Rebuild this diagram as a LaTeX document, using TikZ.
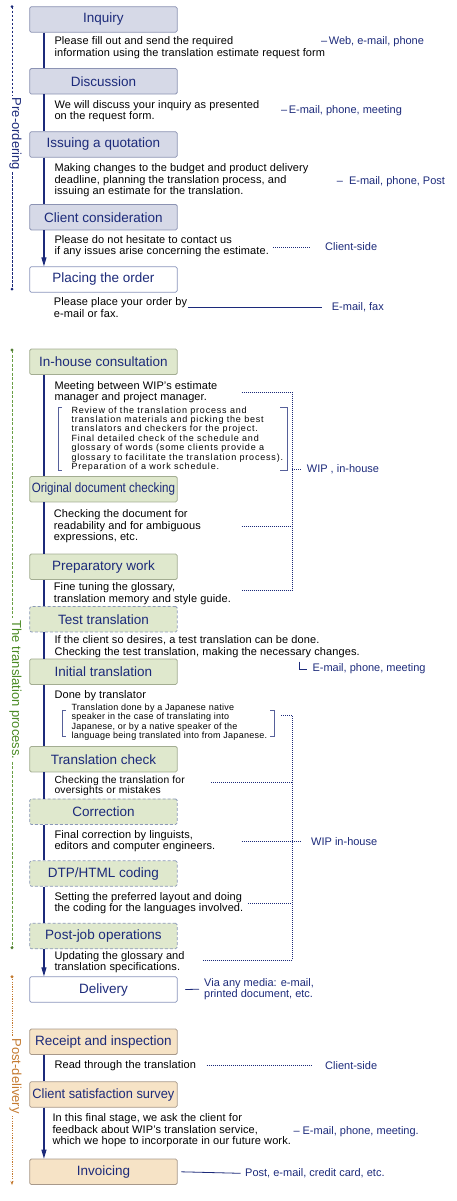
\documentclass[tikz,border=0pt]{standalone}
\usepackage{fontspec}
\setmainfont{Liberation Sans}
\usetikzlibrary{arrows.meta}
\definecolor{navy}{HTML}{1C2A7A}
\definecolor{preFill}{HTML}{D6D9E7}
\definecolor{preDraw}{HTML}{8C93B3}
\definecolor{grnFill}{HTML}{DFE8CD}
\definecolor{grnDraw}{HTML}{A3AD92}
\definecolor{tanFill}{HTML}{F6E3C6}
\definecolor{tanDraw}{HTML}{A8998A}
\definecolor{dashDraw}{HTML}{8A98B8}
\definecolor{wDraw}{HTML}{8A96BC}
\definecolor{grnLab}{HTML}{4A8A24}
\definecolor{grnLine}{HTML}{6A9F45}
\definecolor{brn}{HTML}{C47A30}
\definecolor{brk}{HTML}{56609A}
\begin{document}
\begin{tikzpicture}[x=1pt,y=-1pt,
 box/.style={rounded corners=1.5pt, minimum width=147.5pt, minimum height=25.5pt, inner sep=0pt, text=navy, font=\fontsize{13.5}{15}\selectfont, line width=0.8pt},
 pre/.style={box, draw=preDraw, fill=preFill},
 grn/.style={box, draw=grnDraw, fill=grnFill},
 grnd/.style={grn, draw=dashDraw, dash pattern=on 3pt off 2pt},
 tan/.style={box, draw=tanDraw, fill=tanFill},
 wht/.style={box, draw=wDraw, fill=white},
 desc/.style={anchor=west, align=left, inner sep=0pt, font=\fontsize{11}{11.5}\selectfont\addfontfeatures{LetterSpace=1}},
 small/.style={anchor=west, align=left, inner sep=0pt, font=\fontsize{9}{9.4}\selectfont\addfontfeatures{LetterSpace=9}},
 smallb/.style={anchor=west, align=left, inner sep=0pt, font=\fontsize{9}{9.1}\selectfont\addfontfeatures{LetterSpace=3}},
 lab/.style={anchor=west, align=left, inner sep=0pt, text=navy, font=\fontsize{11}{11.7}\selectfont},
 conn/.style={draw=navy, line width=1.1pt},
 arr/.style={conn, -{Triangle[length=9pt,width=5pt]}},
 dots/.style={draw=navy, line width=0.7pt, dash pattern=on 1pt off 1pt},
 thin/.style={draw=navy, line width=0.8pt},
 brack/.style={draw=brk, line width=0.9pt},
 sec/.style={rotate=-90, font=\fontsize{13}{14}\selectfont, inner sep=2pt},
 preline/.style={draw=navy, line width=0.9pt, dash pattern=on 2.5pt off 1.5pt},
 grnline/.style={draw=grnLine, line width=0.9pt, dash pattern=on 3pt off 1.5pt},
 brnline/.style={draw=brn, line width=1pt, dash pattern=on 1.2pt off 1.2pt}
]
\useasboundingbox (0,0) rectangle (456,1201);

% ---------- boxes ----------
\node[pre] (inquiry)    at (103.4,19.5)  {Inquiry};
\node[pre] (discussion) at (103.4,81.3)  {Discussion};
\node[pre] (quotation)  at (103.4,144.5) {Issuing a quotation};
\node[pre] (consider)   at (103.4,217.2) {Client consideration};
\node[wht] (order)      at (103.4,279.5) {Placing the order};

\node[grn]  (inhouse)    at (103.4,361.8) {In-house consultation};
\node[grn]  (origdoc)    at (103.4,489.2) {\scalebox{0.86}[1]{Original document checking}};
\node[grn]  (prep)       at (103.4,566.8) {Preparatory work};
\node[grnd] (test)       at (103.4,619.2) {Test translation};
\node[grn]  (initial)    at (103.4,671.7) {Initial translation};
\node[grn]  (check)      at (103.4,759.2) {Translation check};
\node[grnd] (correction) at (103.4,811.7) {Correction};
\node[grnd] (dtp)        at (103.4,873.5) {DTP/HTML coding};
\node[grnd] (postjob)    at (103.4,936)   {Post-job operations};

\node[wht] (delivery)  at (103.4,989.5)  {Delivery};
\node[tan] (receipt)   at (103.4,1041.8) {Receipt and inspection};
\node[tan] (survey)    at (103.4,1094.5) {\scalebox{0.95}[1]{Client satisfaction survey}};
\node[tan] (invoicing) at (103.4,1171.8) {Invoicing};

% ---------- flow connectors ----------
\foreach \a/\b in {inquiry/discussion, discussion/quotation, quotation/consider,
  inhouse/origdoc, origdoc/prep, prep/test, test/initial, initial/check,
  check/correction, correction/dtp, dtp/postjob, receipt/survey}
  \draw[conn] ([xshift=14.7pt]\a.south west) -- ([xshift=14.7pt]\b.north west);
\foreach \a/\b in {consider/order, postjob/delivery, survey/invoicing}
  \draw[arr] ([xshift=14.7pt]\a.south west) -- ([xshift=14.7pt]\b.north west);

% ---------- section labels ----------
\node[sec, text=navy] (preLab) at (15.5,134) {Pre-ordering};
\coordinate (preTop) at (12,6.7);
\coordinate (preBot) at (12,289);
\draw[preline] (preTop) -- (preTop |- preLab.west);
\draw[preline] (preTop |- preLab.east) -- (preBot);
\fill[navy] (preTop) circle (1.5pt);
\fill[navy] (preBot) circle (1.5pt);

\node[sec, text=grnLab] (grnLab) at (15.5,690) {The translation process.};
\coordinate (grnTop) at (12,350);
\coordinate (grnBot) at (12,947.7);
\draw[grnline] (grnTop) -- (grnTop |- grnLab.west);
\draw[grnline] (grnTop |- grnLab.east) -- (grnBot);
\fill[grnLine!80!black] (grnTop) circle (1.6pt);
\fill[grnLine!80!black] (grnBot) circle (1.6pt);

\node[sec, text=brn] (brnLab) at (15.5,1076) {Post-delivery};
\coordinate (brnTop) at (12,976.7);
\coordinate (brnBot) at (12,1185);
\draw[brnline] (brnTop) -- (brnTop |- brnLab.west);
\draw[brnline, -{Stealth[length=4pt,width=3pt]}] (brnTop |- brnLab.east) -- (brnBot);
\fill[brn] (brnTop) circle (1.7pt);

% ---------- pre-ordering texts ----------
\node[desc] (d1) at (54.3,47.5) {Please fill out and send the required\\information using the translation estimate request form};
\node[lab] (l1) at (321,41.7) {–\hspace{1.5pt}Web, e-mail, phone};

\node[desc] (d2) at (54.3,111.3) {We will discuss your inquiry as presented\\on the request form.};
\node[lab] (l2) at (281,111) {–\hspace{1.5pt}E-mail, phone, meeting};

\node[desc] (d3) at (54.3,180.5) {Making changes to the budget and product delivery\\deadline, planning the translation process, and\\issuing an estimate for the translation.};
\node[lab] (l3) at (336.7,181.3) {–\hspace{6pt}E-mail, phone, Post};

\node[desc] (d4) at (54.3,246.4) {Please do not hesitate to contact us\\if any issues arise concerning the estimate.};
\node[lab] (l4) at (325,247) {Client-side};
\coordinate (c4) at (273.3,247);
\draw[dots] (c4) -- ([xshift=-14pt]l4.west);

\node[desc] (d5) at (53.7,307.5) {Please place your order by\\e-mail or fax.};
\node[lab] (l5) at (331.7,307) {E-mail, fax};
\coordinate (c5) at (187.7,307);
\draw[thin] (c5) -- ([xshift=-10pt]l5.west);

% ---------- translation process texts ----------
\node[desc] (d6) at (54.3,392.2) {Meeting between WIP's estimate\\manager and project manager.};
\node[small] (s6) at (71.3,439) {Review of the translation process and\\translation materials and picking the best\\translators and checkers for the project.\\Final detailed check of the schedule and\\glossary of words (some clients provide a\\glossary to facilitate the translation process).\\Preparation of a work schedule.};
\draw[brack] (62,407.7) -- (58.3,407.7) -- (58.3,470) -- (62,470);
\draw[brack] (280,407.7) -- (287.3,407.7) -- (287.3,470) -- (280,470);

\node[desc] (d7) at (53.7,526.3) {Checking the document for\\readability and for ambiguous\\expressions, etc.};
\node[desc] (d8) at (53.7,593.5) {Fine tuning the glossary,\\translation memory and style guide.};

\node[lab] (lw1) at (306.7,469) {WIP , in-house};
\draw[dots] (241.7,392.3) -- (292.3,392.3) -- (292.3,590.7) -- (241.7,590.7);
\draw[dots] (241.7,526.7) -- (292.3,526.7);
\draw[dots] (292.3,469) -- ([xshift=-6pt]lw1.west);

\node[desc] (d9) at (54.3,646.7) {If the client so desires, a test translation can be done.\\Checking the test translation, making the necessary changes.};
\node[lab] (lt) at (312.3,669) {E-mail, phone, meeting};
\coordinate (ct) at (299,661.7);
\draw[thin] (ct) |- ([xshift=-5.6pt]lt.west);

\node[desc] (d10) at (54.3,696) {Done by translator};
\node[smallb] (s10) at (71.3,722.2) {Translation done by a Japanese native\\speaker in the case of translating into\\Japanese, or by a native speaker of the\\language being translated into from Japanese.};
\draw[brack] (66,710.7) -- (62.3,710.7) -- (62.3,736) -- (66,736);
\draw[brack] (270,710.7) -- (274,710.7) -- (274,736) -- (270,736);

\node[desc, font=\fontsize{10.3}{10}\selectfont\addfontfeatures{LetterSpace=2}] (d11) at (54.3,785.7) {Checking the translation for\\oversights or mistakes};
\node[desc] (d12) at (54.3,841) {Final correction by linguists,\\editors and computer engineers.};
\node[desc] (d13) at (54.3,903.3) {Setting the preferred layout and doing\\the coding for the languages involved.};
\node[desc] (d14) at (54.3,962.3) {Updating the glossary and\\translation specifications.};

\node[lab] (lw2) at (311,841.3) {WIP in-house};
\draw[dots] (281,715.3) -- (292.3,715.3) -- (292.3,960) -- (202.3,960);
\draw[dots] (211,782.3) -- (292.3,782.3);
\draw[dots] (241.7,841.3) -- ([xshift=-11pt]lw2.west);
\draw[dots] (248.3,903) -- (292.3,903);

% ---------- post-delivery texts ----------
\node[lab] (l15) at (204,989.2) {Via any media: e-mail,\\printed document, etc.};
\draw[thin] ([xshift=7.7pt]delivery.east) -- ([xshift=-5pt]l15.west);

\node[desc] (d16) at (54.3,1065.7) {Read through the translation};
\node[lab] (l16) at (325,1065.7) {Client-side};
\coordinate (c16) at (206.7,1065.7);
\draw[dots] (c16) -- ([xshift=-14pt]l16.west);

\node[desc] (d17) at (52.3,1130.3) {In this final stage, we ask the client for\\feedback about WIP's translation service,\\which we hope to incorporate in our future work.};
\node[lab] (l17) at (293.3,1131.7) {–\hspace{3pt}E-mail, phone, meeting.};

\node[lab] (l18) at (245,1173.3) {Post, e-mail, credit card, etc.};
\draw[thin] ([xshift=3.7pt]invoicing.east) -- ([xshift=-4.3pt]l18.west);
\end{tikzpicture}
\end{document}
